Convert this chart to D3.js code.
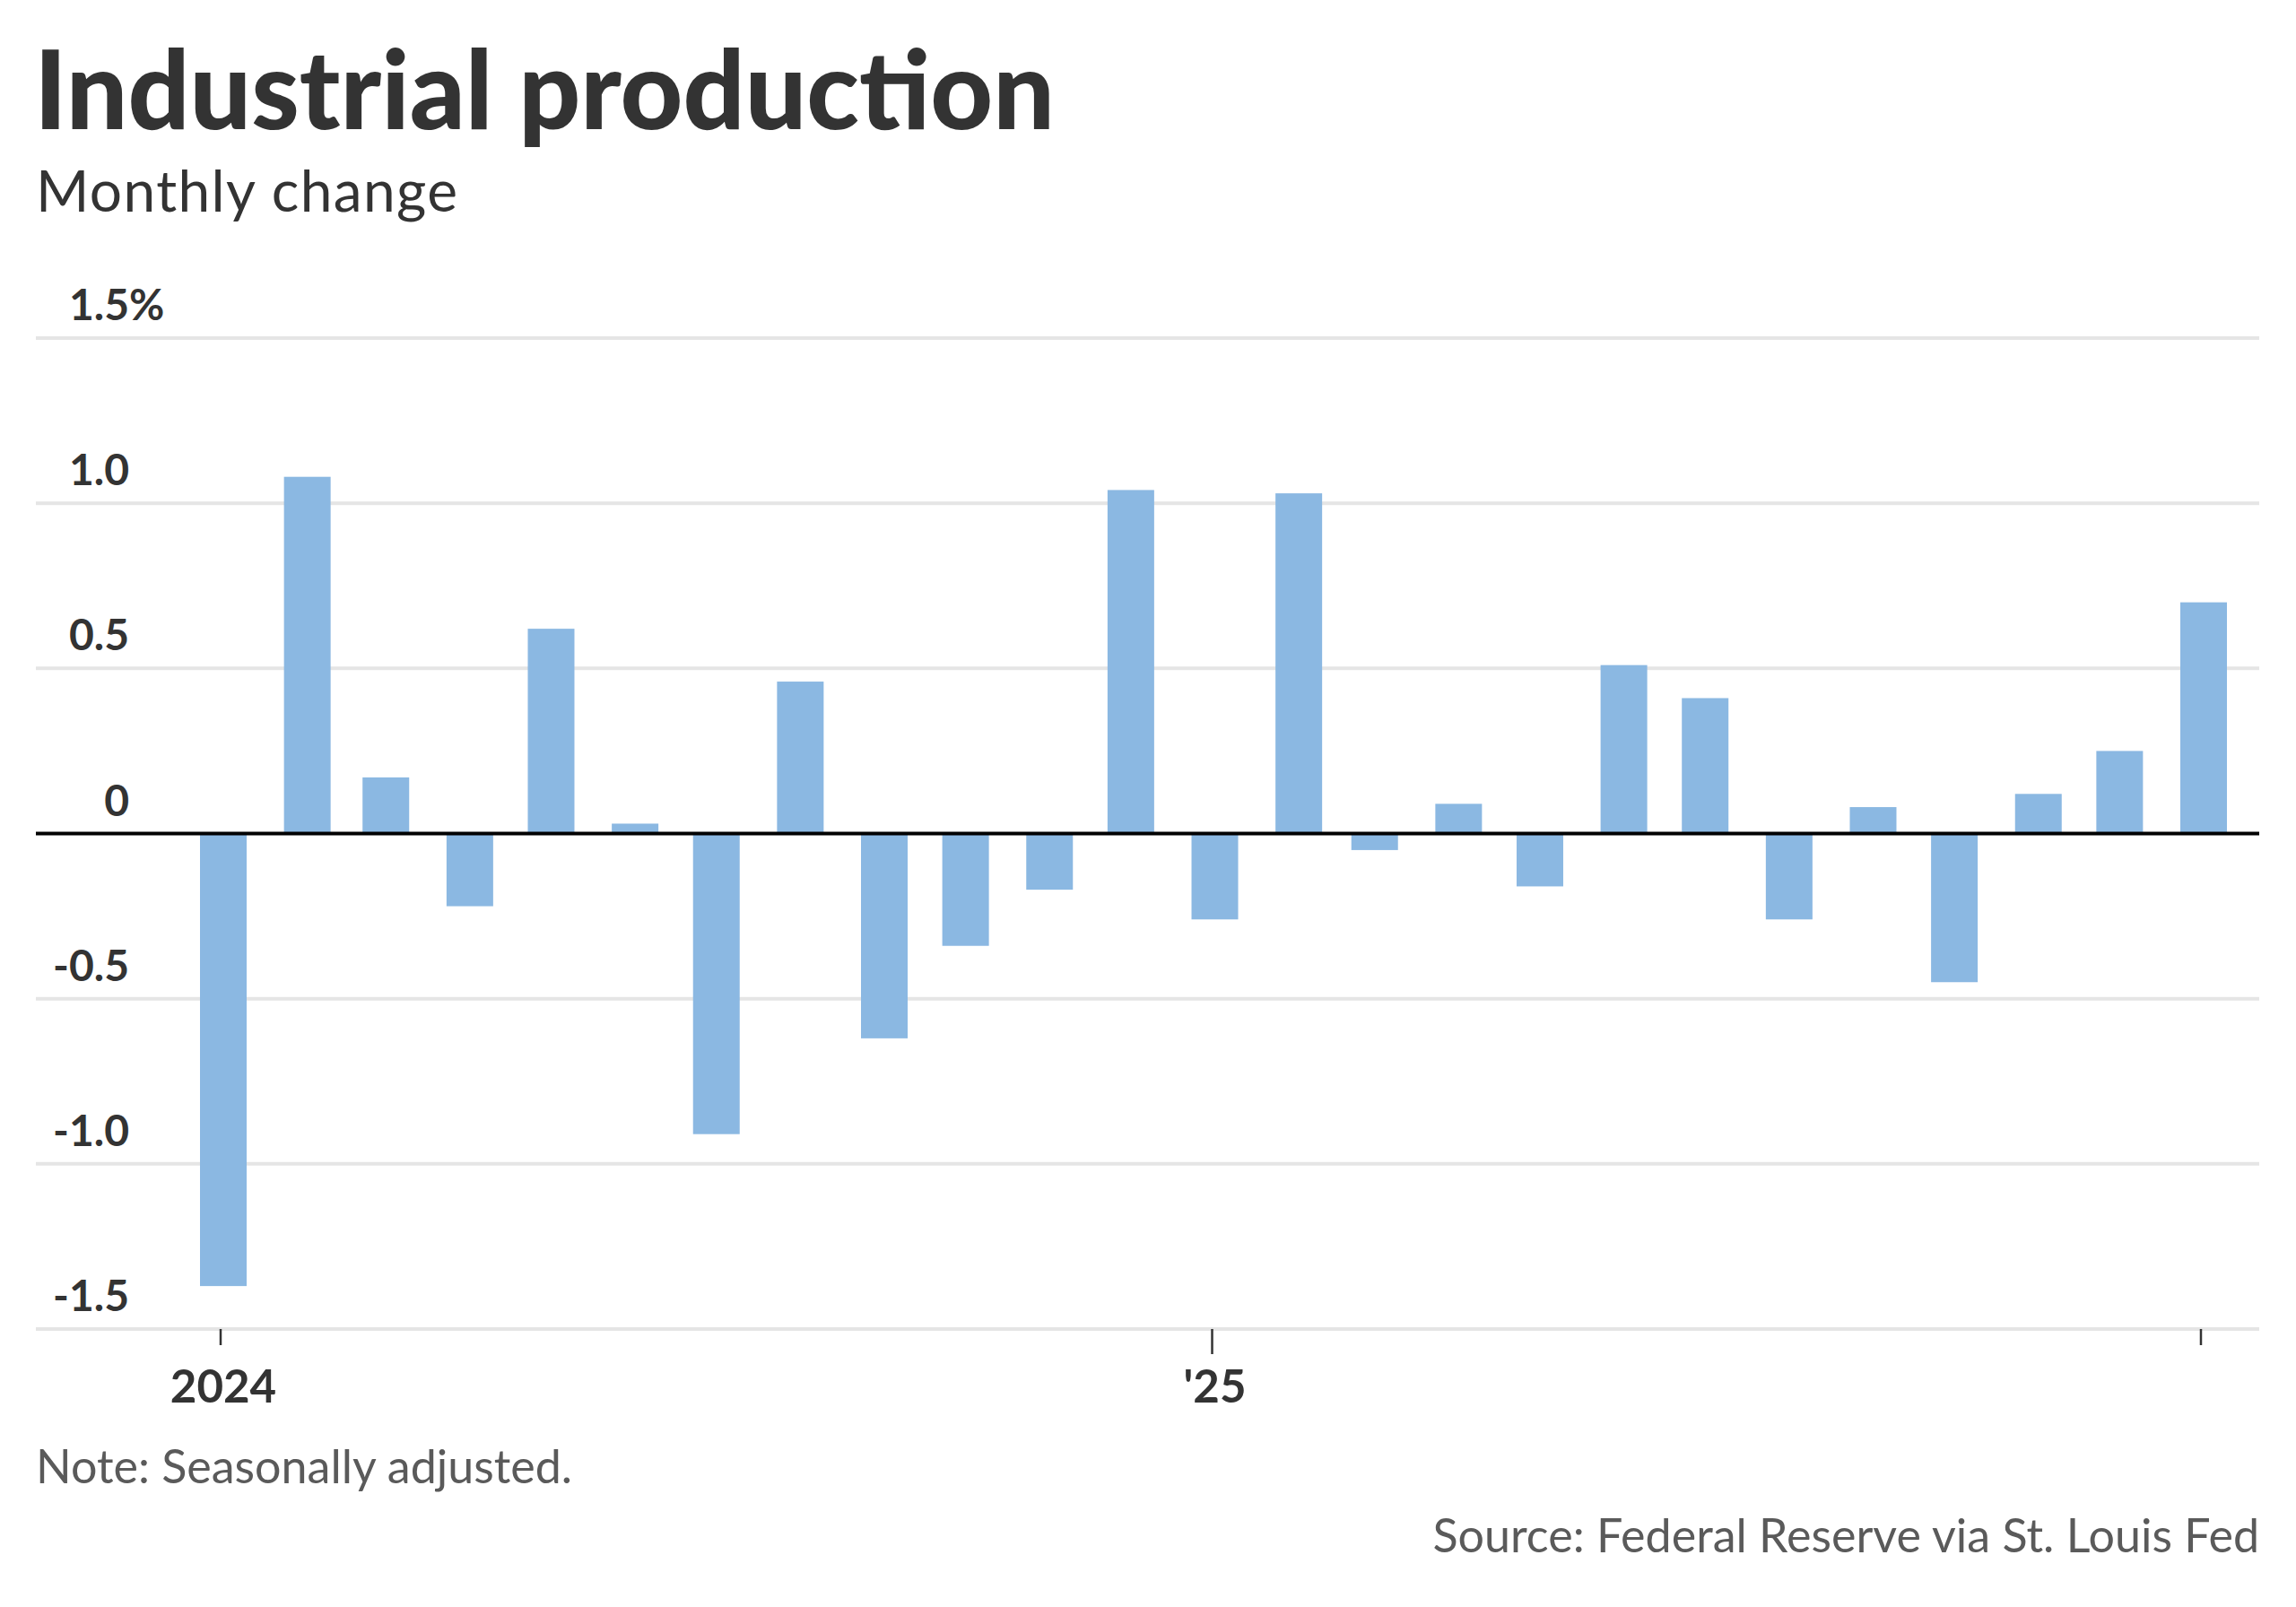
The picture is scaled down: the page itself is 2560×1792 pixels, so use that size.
<!DOCTYPE html>
<html>
<head>
<meta charset="utf-8">
<script src="https://cdn.jsdelivr.net/npm/d3@7"></script>
<style>
  html, body { margin: 0; padding: 0; background: #ffffff; }
  svg { display: block; }
  text { font-family: Lato, "Open Sans", sans-serif; }
</style>
</head>
<body>
<svg id="chart" width="2560" height="1792"></svg>
<script>
// ---- Data ----
const months = [
  "2024-01-01","2024-02-01","2024-03-01","2024-04-01","2024-05-01","2024-06-01",
  "2024-07-01","2024-08-01","2024-09-01","2024-10-01","2024-11-01","2024-12-01",
  "2025-01-01","2025-02-01","2025-03-01","2025-04-01","2025-05-01","2025-06-01",
  "2025-07-01","2025-08-01","2025-09-01","2025-10-01","2025-11-01","2025-12-01",
  "2026-01-01"
];
const changes = [
  -1.37, 1.08, 0.17, -0.22, 0.62, 0.03,
  -0.91, 0.46, -0.62, -0.34, -0.17, 1.04,
  -0.26, 1.03, -0.05, 0.09, -0.16, 0.51,
  0.41, -0.26, 0.08, -0.45, 0.12, 0.25,
  0.70
];
const yTicks = [1.5, 1.0, 0.5, 0, -0.5, -1.0, -1.5];
const yTickLabels = ["1.5", "1.0", "0.5", "0", "-0.5", "-1.0", "-1.5"];
const xTickDates = ["2024-01-01", "2025-01-01", "2026-01-01"];
const xTickLabels = ["2024", "'25", ""];

const title = "Industrial production";
const subtitle = "Monthly change";
const note = "Note: Seasonally adjusted.";
const source = "Source: Federal Reserve via St. Louis Fed";

// ---- Layout ----
const parse = d3.utcParse("%Y-%m-%d");
const data = months.map((m, i) => ({ date: parse(m), value: changes[i] }));

const plotLeft = 40, plotRight = 2519;
const svg = d3.select("#chart");

const x = d3.scaleUtc()
  .domain([parse("2024-01-01"), parse("2026-01-01")])
  .range([246, 2454]);
const y = d3.scaleLinear().domain([-1.5, 1.5]).range([1482, 377]);

const barW = 52, barOffset = 3;
const barColor = "#8bb8e2";

// Title & subtitle
const t = svg.append("text")
  .attr("x", 38).attr("y", 144)
  .attr("fill", "#333333")
  .attr("font-weight", 900)
  .attr("font-size", 116)
  .text(title);
const tw = t.node().getComputedTextLength();
const fs = Math.max(104, Math.min(126, 116 * 1138 / tw));
t.attr("font-size", fs);

const st = svg.append("text")
  .attr("x", 40).attr("y", 236)
  .attr("fill", "#333333")
  .attr("font-weight", 400)
  .attr("font-size", 64)
  .text(subtitle);
const sw = st.node().getComputedTextLength();
st.attr("letter-spacing", Math.max(0, Math.min(3, (470 - sw) / (subtitle.length - 1))));

// Gridlines
const grid = svg.append("g");
grid.selectAll("line")
  .data(yTicks.filter(d => d !== 0))
  .join("line")
  .attr("x1", plotLeft).attr("x2", plotRight)
  .attr("y1", d => y(d)).attr("y2", d => y(d))
  .attr("stroke", "#e5e5e5")
  .attr("stroke-width", 4);

// Y labels
const yl = svg.append("g")
  .attr("font-size", 48)
  .attr("font-weight", 700)
  .attr("fill", "#333333");
yl.selectAll("text")
  .data(yTicks)
  .join("text")
  .attr("x", 144)
  .attr("y", d => y(d) - 20)
  .attr("text-anchor", "end")
  .text((d, i) => yTickLabels[i]);
yl.append("text")
  .attr("x", 144)
  .attr("y", y(yTicks[0]) - 20)
  .attr("text-anchor", "start")
  .text("%");

// Bars
svg.append("g")
  .selectAll("rect")
  .data(data)
  .join("rect")
  .attr("x", d => x(d.date) + barOffset - barW / 2)
  .attr("width", barW)
  .attr("y", d => Math.min(y(d.value), y(0)))
  .attr("height", d => Math.abs(y(d.value) - y(0)))
  .attr("fill", barColor);

// Zero line
svg.append("line")
  .attr("x1", plotLeft).attr("x2", plotRight)
  .attr("y1", y(0)).attr("y2", y(0))
  .attr("stroke", "#000000")
  .attr("stroke-width", 4);

// X ticks
const xt = svg.append("g");
xt.selectAll("line")
  .data(xTickDates)
  .join("line")
  .attr("x1", d => x(parse(d))).attr("x2", d => x(parse(d)))
  .attr("y1", y(-1.5))
  .attr("y2", (d, i) => y(-1.5) + (i === 1 ? 28 : 18))
  .attr("stroke", "#333333")
  .attr("stroke-width", 2.5);
xt.selectAll("text")
  .data(xTickDates)
  .join("text")
  .attr("x", d => x(parse(d)) + 3)
  .attr("y", 1564)
  .attr("text-anchor", "middle")
  .attr("font-size", 51)
  .attr("font-weight", 700)
  .attr("fill", "#333333")
  .text((d, i) => xTickLabels[i]);

// Footer
svg.append("text")
  .attr("x", 40).attr("y", 1654)
  .attr("font-size", 52)
  .attr("fill", "#5a5a5a")
  .text(note);
svg.append("text")
  .attr("x", plotRight).attr("y", 1731)
  .attr("text-anchor", "end")
  .attr("font-size", 52)
  .attr("fill", "#5a5a5a")
  .text(source);
</script>
</body>
</html>
